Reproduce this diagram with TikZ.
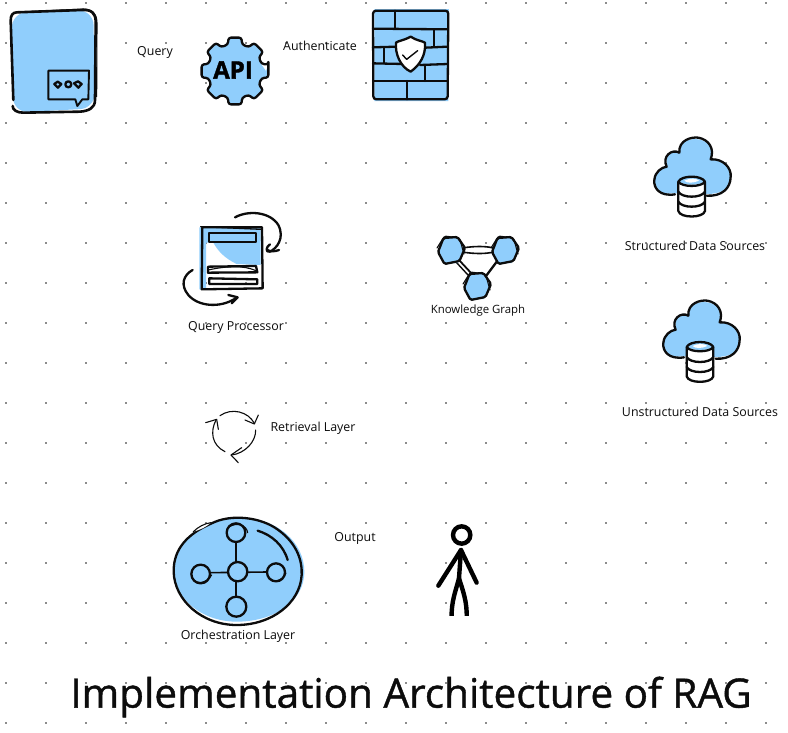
\documentclass[tikz,border=0pt]{standalone}
\usepackage{fontspec}
\setmainfont{Open Sans}
\newfontfamily\titlefont[FakeBold=1]{Open Sans}
\newfontfamily\apifont[BoldFeatures={FakeBold=1.5}]{Open Sans}
\definecolor{skyfill}{HTML}{90CEFC}
\definecolor{griddot}{HTML}{8C8C8C}
\definecolor{inkblack}{HTML}{0C0C0C}
\tikzset{
  ink/.style={draw=inkblack,line width=2.3pt,line cap=round,line join=round},
  thinink/.style={draw=inkblack,line width=1.1pt,line cap=round,line join=round},
  skyshape/.style={fill=skyfill},
  lbl/.style={inner sep=0pt,font=\fontsize{12.4}{14}\selectfont,text=inkblack},
  zoomed/.style={shift={#1},scale=1/3}
}
\newcommand{\rsCloud}{%
  \path[skyshape] (160,190) .. controls (120,195) and (105,175) .. (105,150) .. controls (105,125) and (125,112) .. (143,110) .. controls (130,80) and (155,58) .. (180,68) .. controls (178,30) and (215,25) .. (235,28) .. controls (265,32) and (283,55) .. (272,90) .. controls (310,88) and (332,115) .. (332,140) .. controls (332,175) and (305,192) .. (260,192) -- cycle;
  \draw[ink] (165,193) .. controls (120,200) and (100,175) .. (103,150) .. controls (105,125) and (125,112) .. (140,110) .. controls (125,80) and (155,55) .. (178,68) .. controls (175,30) and (215,20) .. (235,23) .. controls (265,28) and (285,55) .. (272,88) .. controls (310,85) and (335,115) .. (332,140) .. controls (332,175) and (305,200) .. (260,197);
}
\newcommand{\rsDb}[2]{%
  \path[fill=white] (#1-40,#2) -- (#1-40,#2+90) .. controls (#1-35,#2+112) and (#1+35,#2+112) .. (#1+40,#2+90) -- (#1+40,#2) -- cycle;
  \path[skyshape] (#1-38,#2) .. controls (#1-30,#2-18) and (#1+30,#2-18) .. (#1+38,#2) .. controls (#1+20,#2+12) and (#1-20,#2+12) .. cycle;
  \fill[white] (#1-22,#2-3) .. controls (#1-5,#2-12) and (#1+15,#2-10) .. (#1+22,#2-3) .. controls (#1+5,#2+5) and (#1-15,#2+5) .. cycle;
  \draw[ink] (#1-40,#2) .. controls (#1-30,#2-20) and (#1+30,#2-20) .. (#1+40,#2) .. controls (#1+30,#2+17) and (#1-30,#2+17) .. cycle;
  \draw[ink] (#1-40,#2) -- (#1-40,#2+88) .. controls (#1-35,#2+110) and (#1+35,#2+110) .. (#1+40,#2+88) -- (#1+40,#2);
  \draw[ink] (#1-40,#2+30) .. controls (#1-30,#2+50) and (#1+30,#2+50) .. (#1+40,#2+30);
  \draw[ink] (#1-40,#2+60) .. controls (#1-30,#2+80) and (#1+30,#2+80) .. (#1+40,#2+60);
}
\newcommand{\rsHex}[3]{%
  \path[skyshape] (#1-#3,#2) -- (#1-#3/2,#2-#3) -- (#1+#3/2,#2-#3) -- (#1+#3,#2) -- (#1+#3/2,#2+#3) -- (#1-#3/2,#2+#3) -- cycle;
  \draw[ink,rounded corners=1.5pt] (#1-#3,#2+2) -- (#1-#3/2-1,#2-#3+1) -- (#1+#3/2,#2-#3) -- (#1+#3+1,#2-2) -- (#1+#3/2+2,#2+#3-2) -- (#1-#3/2,#2+#3+1) -- cycle;
  \draw[thinink,rounded corners=1.5pt] (#1-#3-1,#2-2) -- (#1-#3/2,#2-#3-1) -- (#1+#3/2+2,#2-#3+1) -- (#1+#3,#2+4);
}
\begin{document}
\begin{tikzpicture}[x=1pt,y=-1pt]
\useasboundingbox (0,0) rectangle (788,732);
\fill[white] (0,0) rectangle (788,732);
\foreach \gx in {6,46,...,786}
  \foreach \gy in {3,43,...,723}
    \fill[griddot] (\gx-1,\gy-1) rectangle (\gx+1,\gy+1);

% device with chat bubble
\begin{scope}[zoomed={(0,0)}]
  \path[skyshape,rounded corners=15pt] (35,38) -- (280,30) -- (285,325) -- (40,338) -- cycle;
  \draw[ink,line width=2.6pt] (40,300) -- (32,62) .. controls (32,45) and (38,38) .. (50,37) -- (245,30) .. controls (275,28) and (287,40) .. (287,65) -- (285,300) .. controls (285,325) and (265,333) .. (240,335) -- (70,338) .. controls (50,338) and (38,330) .. (38,318);
  \draw[thinink] (60,36) -- (250,27) .. controls (280,27) and (291,45) .. (291,70) -- (290,290);
  \draw[ink,line width=1.9pt] (145,212) -- (267,212) -- (265,298) -- (247,298) -- (232,318) -- (226,298) -- (145,298) -- cycle;
  \draw[ink] (163,252) -- (173,245) -- (184,252) -- (174,263) -- cycle;
  \draw[ink] (205,253) circle[radius=9];
  \draw[ink] (222,250) -- (234,244) -- (245,252) -- (235,263) -- cycle;
\end{scope}
\node[lbl] (querylabel) at (155,52) {Query};

% API gear
\begin{scope}[shift={(235,71)}]
  \path[fill=skyfill] (0:31) \foreach \a in {0,45,...,315} { -- (\a-11:34) -- (\a+11:34) -- (\a+15:27) -- (\a+30:27) } -- cycle;
  \draw[ink,rounded corners=2.5pt] (-11:34) \foreach \a in {0,45,...,315} { -- (\a-11:34) -- (\a+11:34) -- (\a+15:27.5) -- (\a+30:27.5) } -- cycle;
  \node[inner sep=0pt,text=black,font=\apifont\bfseries\fontsize{24}{25}\selectfont] (apitext) at (-2,-1) {API};
\end{scope}
\node[lbl] (authlabel) at (320,46) {Authenticate};

% firewall
\begin{scope}[zoomed={(190,0)}]
  \path[skyshape] (553,27) -- (777,27) -- (775,303) -- (553,303) -- cycle;
  \draw[ink,rounded corners=3pt] (549,32) -- (775,32) -- (773,298) -- (550,298) -- cycle;
  \draw[ink] (549,86) -- (773,88);
  \draw[ink] (549,142) -- (620,140);
  \draw[ink] (705,143) -- (773,140);
  \draw[ink] (549,190) -- (640,192);
  \draw[ink] (690,195) -- (773,192);
  \draw[ink] (549,243) -- (773,243);
  \draw[ink] (614,32) -- (614,86);
  \draw[ink] (733,88) -- (733,140);
  \draw[ink] (583,142) -- (583,190);
  \draw[ink] (705,195) -- (705,243);
  \draw[ink] (650,243) -- (650,298);
  \draw[ink,fill=white] (662,110) .. controls (640,122) and (625,122) .. (618,128) .. controls (615,160) and (630,200) .. (662,215) .. controls (690,195) and (708,165) .. (705,128) .. controls (695,122) and (680,122) .. (662,110) -- cycle;
  \draw[thinink,line width=1.4pt] (638,165) -- (650,178) -- (683,152);
\end{scope}

% query processor
\begin{scope}[zoomed={(170,200)}]
  \path[skyshape] (88,82) -- (272,80) -- (272,195) -- (200,192) .. controls (165,175) and (145,155) .. (130,128) -- (108,128) -- (108,268) -- (88,268) -- cycle;
  \draw[ink] (97,82) -- (276,82) -- (278,265) -- (95,268) -- cycle;
  \draw[thinink,line width=1.3pt] (92,80) -- (274,88);
  \draw[ink] (116,100) -- (258,100) -- (258,125) -- (116,125) -- cycle;
  \draw[ink] (114,200) -- (258,198) -- (262,217) -- (114,218) -- cycle;
  \draw[thinink] (114,210) .. controls (170,198) and (220,195) .. (258,212);
  \draw[ink] (118,235) -- (262,238) -- (262,252) -- (118,252) -- cycle;
  \draw[ink] (195,52) .. controls (235,30) and (300,35) .. (325,75) .. controls (345,115) and (320,145) .. (300,155) .. controls (285,158) and (288,140) .. (300,133);
  \draw[ink] (292,150) .. controls (300,155) and (315,155) .. (327,150);
  \draw[ink] (68,210) .. controls (40,225) and (30,255) .. (55,285) .. controls (85,320) and (150,325) .. (197,295);
  \draw[ink] (175,285) -- (203,292) -- (185,310);
\end{scope}
\node[lbl] (qplabel) at (236,327) {Query Processor};

% knowledge graph
\begin{scope}
  \draw[ink,line width=1.6pt] (462,248) .. controls (475,246) and (485,246) .. (494,248);
  \draw[ink,line width=1.6pt] (462,252) .. controls (475,254) and (485,254) .. (494,252);
  \draw[ink,line width=1.8pt] (459,260) -- (472,274);
  \draw[ink,line width=1.4pt] (456,262) -- (468,275);
  \draw[ink] (498,260) -- (486,276);
  \rsHex{451}{250}{13}
  \rsHex{505}{250}{13}
  \rsHex{477}{286}{13}
\end{scope}
\node[lbl,font=\fontsize{11.4}{14}\selectfont] (kglabel) at (478,311) {Knowledge Graph};

% structured cloud
\begin{scope}[zoomed={(620,130)}]
  \rsCloud
  \rsDb{215}{155}
\end{scope}
\node[lbl] (sdlabel) at (695,246) {Structured Data Sources};

% unstructured cloud
\begin{scope}[zoomed={(629,293)}]
  \rsCloud
  \rsDb{213}{162}
\end{scope}
\node[lbl] (udlabel) at (700,412) {Unstructured Data Sources};

% retrieval cycle
\begin{scope}[zoomed={(190,400)}]
  \draw[thinink] (90,47) .. controls (125,22) and (175,35) .. (193,70);
  \draw[thinink] (165,60) -- (193,72) -- (205,45);
  \draw[thinink] (197,90) .. controls (198,125) and (165,160) .. (125,165);
  \draw[thinink] (155,143) -- (123,165) -- (145,188);
  \draw[thinink] (105,155) .. controls (65,135) and (60,95) .. (78,60);
  \draw[thinink] (47,68) -- (80,58) -- (85,88);
\end{scope}
\node[lbl] (rllabel) at (313,428) {Retrieval Layer};

% orchestration
\begin{scope}[zoomed={(165,510)}]
  \path[skyshape] (218,22) .. controls (340,22) and (418,100) .. (418,185) .. controls (418,280) and (320,335) .. (215,335) .. controls (110,335) and (28,265) .. (28,185) .. controls (28,100) and (100,30) .. (218,22) -- cycle;
  \draw[ink] (140,40) .. controls (200,10) and (290,22) .. (340,60) .. controls (395,100) and (412,150) .. (410,195) .. controls (405,280) and (320,345) .. (215,345) .. controls (110,345) and (28,270) .. (26,185) .. controls (25,115) and (70,70) .. (140,40) -- cycle;
  \fill[white] (85,65) .. controls (100,50) and (120,40) .. (138,38) .. controls (125,50) and (105,60) .. (85,65) -- cycle;
  \draw[thinink] (85,65) .. controls (100,50) and (120,40) .. (138,38);
  \draw[ink] (278,62) .. controls (320,75) and (355,105) .. (368,150);
  \draw[ink,line width=1.6pt] (213,90) -- (213,265);
  \draw[ink,line width=1.6pt] (135,188) -- (305,186);
  \draw[ink,fill=skyfill] (218,185) circle[radius=29];
  \draw[ink,fill=skyfill] (213,68) circle[radius=28];
  \draw[thinink] (190,52) .. controls (215,35) and (245,45) .. (248,68);
  \draw[ink,fill=skyfill] (107,192) circle[radius=28];
  \draw[thinink] (82,205) .. controls (95,225) and (125,220) .. (140,195);
  \draw[ink,fill=skyfill] (333,187) circle[radius=27];
  \draw[thinink] (310,205) .. controls (325,218) and (350,215) .. (363,190);
  \draw[ink,fill=skyfill] (214,290) circle[radius=30];
\end{scope}
\node[lbl] (ollabel) at (238,636) {Orchestration Layer};
\node[lbl] (outlabel) at (355,538) {Output};

% person
\begin{scope}[zoomed={(320,515)}]
  \draw[draw=black,line width=4.4pt] (425,60) circle[radius=26];
  \begin{scope}
    \clip (330,90) rectangle (490,302);
    \draw[draw=black,line width=4.4pt,line cap=round,line join=round] (355,212) -- (423,105) -- (470,203);
    \draw[draw=black,line width=4.4pt,line cap=round] (423,105) -- (417,190);
    \draw[draw=black,line width=4.4pt,line cap=round] (395,310) .. controls (393,260) and (408,225) .. (417,190) .. controls (428,225) and (442,260) .. (440,310);
  \end{scope}
\end{scope}

% title
\node[inner sep=0pt,text=inkblack,font=\titlefont\fontsize{40.5}{44}\selectfont] (titlelabel) at (411,697) {Implementation Architecture of RAG};
\end{tikzpicture}
\end{document}
